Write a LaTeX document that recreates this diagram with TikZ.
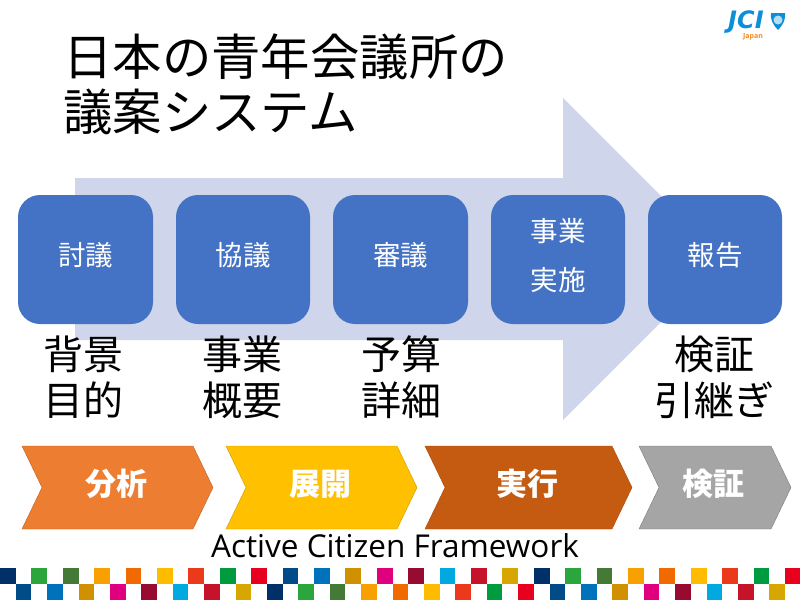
\documentclass[tikz,border=0pt]{standalone}
\usepackage{fontspec}
\setmainfont{Open Sans}
\newfontfamily\cjk{Noto Sans CJK JP}
\newfontfamily\logofont{DejaVu Sans}
\usepackage{tikz}
\usetikzlibrary{positioning}

\definecolor{arrowblue}{HTML}{CFD5EA}
\definecolor{boxblue}{HTML}{4472C4}
\definecolor{jciblue}{HTML}{0B8FD8}
\definecolor{jciorange}{HTML}{F08A24}
\definecolor{phaseone}{HTML}{ED7D31}
\definecolor{phasetwo}{HTML}{FFC000}
\definecolor{phasethree}{HTML}{C55A11}
\definecolor{phasefour}{HTML}{A5A5A5}
\definecolor{sdg0}{HTML}{003067}
\definecolor{sdg1}{HTML}{2AA63C}
\definecolor{sdg2}{HTML}{457A36}
\definecolor{sdg3}{HTML}{F8A000}
\definecolor{sdg4}{HTML}{F06A00}
\definecolor{sdg5}{HTML}{FFBB00}
\definecolor{sdg6}{HTML}{EA3A1A}
\definecolor{sdg7}{HTML}{009B3E}
\definecolor{sdg8}{HTML}{E8001F}
\definecolor{sdg9}{HTML}{004C88}
\definecolor{sdg10}{HTML}{0072BC}
\definecolor{sdg11}{HTML}{D19000}
\definecolor{sdg12}{HTML}{E0007F}
\definecolor{sdg13}{HTML}{970B31}
\definecolor{sdg14}{HTML}{00A9E0}
\definecolor{sdg15}{HTML}{C5142A}
\definecolor{sdg16}{HTML}{D7A600}

\newcommand{\stagetext}[1]{\raisebox{-2.9pt}[0pt][0pt]{\begin{tabular}{@{}c@{}}#1\end{tabular}}}

\tikzset{
  stagebox/.style={fill=boxblue,rounded corners=22pt,minimum height=129pt,text=white,
    font=\cjk\fontsize{27.5}{49}\selectfont},
  notelabel/.style={align=center,text=black,font=\cjk\fontsize{40}{46}\selectfont},
  phaselabel/.style={text=white,font=\cjk\bfseries\fontsize{31}{34}\selectfont},
}

\begin{document}
\begin{tikzpicture}[x=1pt,y=-1pt]
\useasboundingbox (0,0) rectangle (800,600);

% big arrow behind the boxes
\fill [arrowblue] (75,178) -- (563,178) -- (563,98) -- (724,259) -- (563,420) -- (563,340) -- (75,340) -- cycle;

% title
\node (title) [anchor=west,align=left,text=black,inner sep=0pt,font=\cjk\fontsize{49.4}{55}\selectfont] at (63,84) {日本の青年会議所の\\議案システム};

% stages
\node (touron) [stagebox,minimum width=135pt] at (85.5,259.5) {\stagetext{討議}};
\node (kyougi) [stagebox,minimum width=134pt] at (243,259.5) {\stagetext{協議}};
\node (shingi) [stagebox,minimum width=135pt] at (400.5,259.5) {\stagetext{審議}};
\node (jigyou) [stagebox,minimum width=134pt] at (558,259.5) {\stagetext{事業\\実施}};
\node (houkoku) [stagebox,minimum width=134pt] at (715,259.5) {\stagetext{報告}};

% notes
\node (haikei) [notelabel] at (83.5,377.5) {背景\\目的};
\node (gaiyou) [notelabel] at (242.5,377.5) {事業\\概要};
\node (yosan) [notelabel] at (401.5,377.5) {予算\\詳細};
\node (kenshou) [notelabel] at (714,377.5) {検証\\引継ぎ};

% chevrons
\draw [fill=phaseone,draw=phaseone!80!black] (22,446) -- (193,446) -- (213,487.5) -- (193,529) -- (22,529) -- (42,487.5) -- cycle;
\draw [fill=phasetwo,draw=phasetwo!80!black] (226,446) -- (397,446) -- (417,487.5) -- (397,529) -- (226,529) -- (246,487.5) -- cycle;
\draw [fill=phasethree,draw=phasethree!85!black] (425,446) -- (612,446) -- (632,487.5) -- (612,529) -- (425,529) -- (445,487.5) -- cycle;
\draw [fill=phasefour,draw=phasefour!75!black] (639,446) -- (771,446) -- (791,487.5) -- (771,529) -- (639,529) -- (659,487.5) -- cycle;
\node (bunseki) [phaselabel] at (116.5,484) {分析};
\node (tenkai) [phaselabel] at (320.5,484) {展開};
\node (jikkou) [phaselabel] at (527.5,484) {実行};
\node (kenshoulabel) [phaselabel] at (713.5,484) {検証};

\node (framework) [text=black,font=\fontsize{31.5}{36}\selectfont] at (395,546) {Active Citizen Framework};

% strip of coloured squares
\foreach \i in {0,...,25}{
  \pgfmathtruncatemacro{\upper}{mod(\i,17)}
  \pgfmathtruncatemacro{\lower}{mod(\i+9,17)}
  \fill [sdg\upper] (\i*31.4,568) rectangle +(15.7,16);
  \fill [sdg\lower] (\i*31.4+15.7,584) rectangle +(15.7,16);
}

% logo
\node (jci) [anchor=west,inner sep=0pt,text=jciblue,font=\logofont\bfseries\itshape\fontsize{24}{24}\selectfont] at (728,21.5) {JCI};
\node (japan) [inner sep=0pt,text=jciorange,font=\bfseries\fontsize{7}{7}\selectfont] at (753,37) {Japan};
\fill [jciblue] (771,13) -- (785,13) .. controls (786,19) and (783,25) .. (778,30) .. controls (773,25) and (770,19) .. (771,13) -- cycle;
\fill [white!70!jciblue] (778,20) circle (4.5pt);
\end{tikzpicture}
\end{document}
